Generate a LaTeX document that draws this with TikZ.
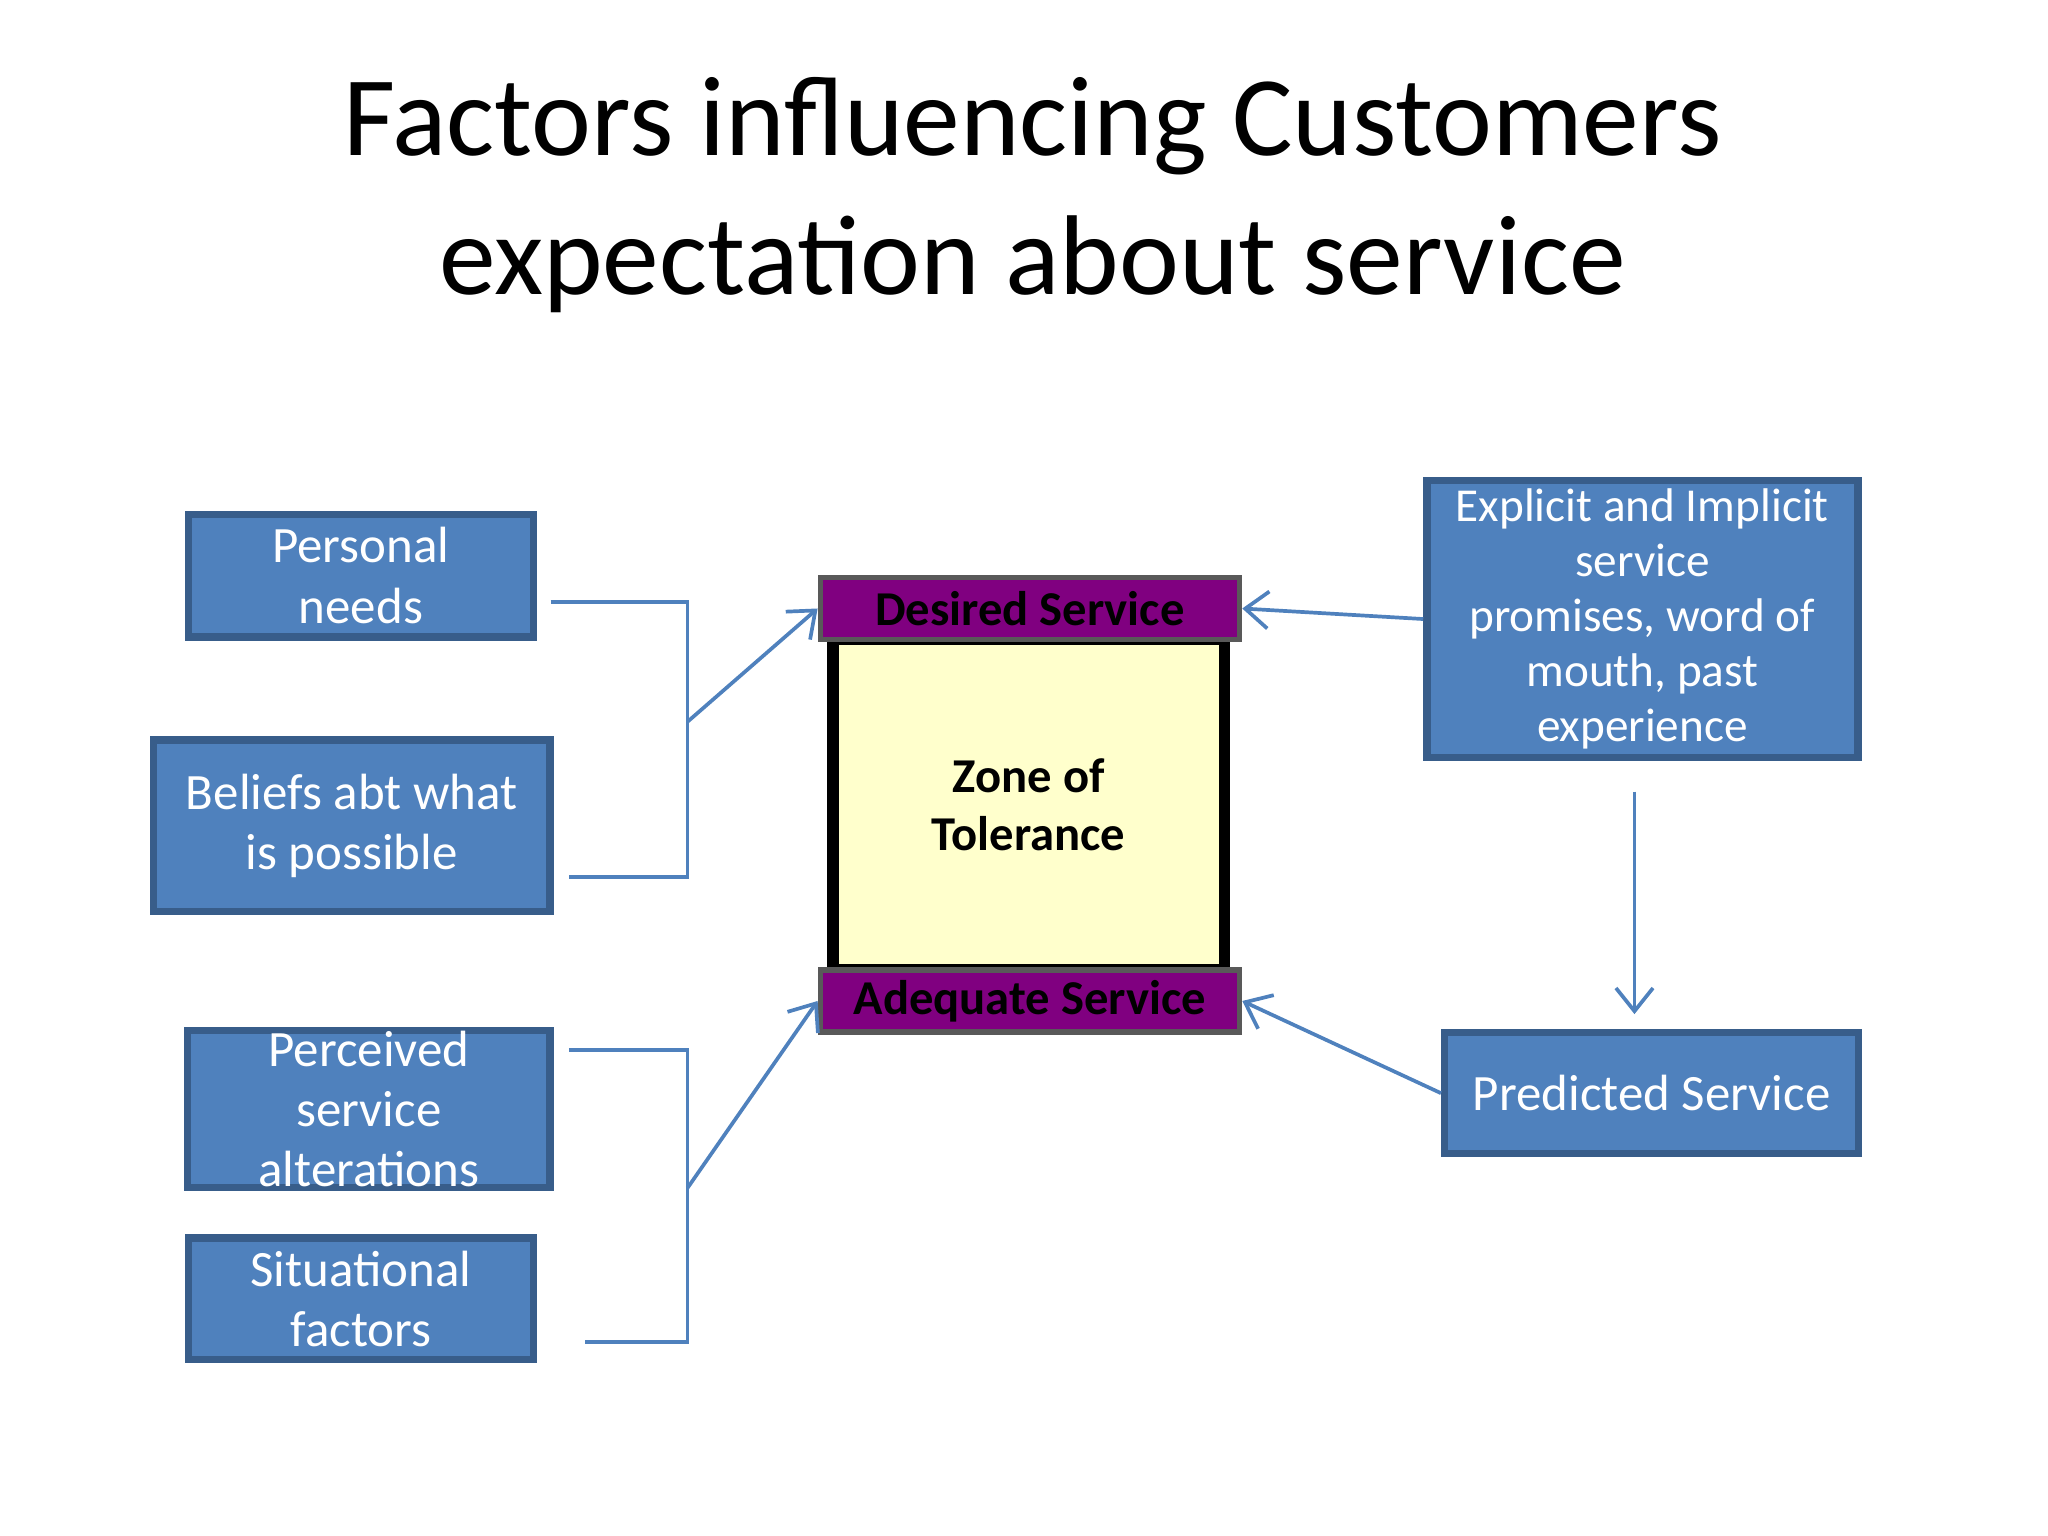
\documentclass[tikz,border=0pt]{standalone}
\usepackage{fontspec}
\setmainfont{Carlito}
\usetikzlibrary{arrows.meta}
\begin{document}
\begin{tikzpicture}[x=0.01cm,y=-0.01cm,
  box/.style={draw=bordc, line width=1.6pt, fill=boxc, text=white, font=\fontsize{11}{13}\selectfont, align=center, inner sep=0pt},
  bar/.style={draw=gray!70!black, line width=1.2pt, fill=purp, font=\bfseries\fontsize{10.5}{12}\selectfont, inner sep=0pt},
  ln/.style={draw=boxc, line width=0.8pt},
  arr/.style={ln,-{Straight Barb[length=5pt,width=8pt]}}]
\definecolor{boxc}{HTML}{4F81BD}
\definecolor{bordc}{HTML}{385D8A}
\definecolor{purp}{HTML}{800080}
\definecolor{zone}{HTML}{FFFFCC}
\useasboundingbox (0,0) rectangle (1555,1166);
\node[font=\fontsize{24.5}{30}\selectfont, align=center] (title) at (784,148) {Factors influencing Customers\\expectation about service};
% left boxes
\node[box, minimum width=2.62cm, minimum height=0.93cm] (pn) at (274,437) {Personal\\needs};
\node[box, minimum width=3.01cm, minimum height=1.30cm] (bel) at (267,627) {Beliefs abt what\\is possible};
\node[box, minimum width=2.75cm, minimum height=1.19cm] (per) at (280,842) {Perceived\\service\\alterations};
\node[box, minimum width=2.62cm, minimum height=0.92cm] (sit) at (274,986) {Situational\\factors};
% center
\node[draw=black, line width=2.5pt, fill=zone, minimum width=2.97cm, minimum height=2.51cm, inner sep=0pt, font=\bfseries\fontsize{10.5}{12.5}\selectfont, align=center] (zone) at (781,611) {Zone of\\Tolerance};
\node[bar, minimum width=3.18cm, minimum height=0.47cm] (des) at (782,462) {Desired Service};
\node[bar, minimum width=3.18cm, minimum height=0.47cm] (ade) at (782,760) {Adequate Service};
% right
\node[box, font=\fontsize{10.2}{11.9}\selectfont, minimum width=3.27cm, minimum height=2.10cm] (exp) at (1247,470) {Explicit and Implicit\\service\\promises, word of\\mouth, past\\experience};
\node[box, minimum width=3.14cm, minimum height=0.92cm] (pre) at (1254,830) {Predicted Service};
% brackets
\coordinate (a1) at (418,457); \coordinate (a2) at (522,457);
\coordinate (a3) at (522,666); \coordinate (a4) at (432,666);
\coordinate (am) at (522,548);
\draw[ln] (a1) -- (a2) -- (a3) -- (a4);
\draw[arr] (am) -- (des.west);
\coordinate (b1) at (432,797); \coordinate (b2) at (522,797);
\coordinate (b3) at (522,1019); \coordinate (b4) at (444,1019);
\coordinate (bm) at (522,902);
\draw[ln] (b1) -- (b2) -- (b3) -- (b4);
\draw[arr] (bm) -- (ade.west);
% right arrows
\draw[arr] (exp.west) -- (des.east);
\coordinate (d1) at (1241,601); \coordinate (d2) at (1241,770);
\draw[arr] (d1) -- (d2);
\draw[arr] (pre.west) -- (ade.east);
\end{tikzpicture}
\end{document}
